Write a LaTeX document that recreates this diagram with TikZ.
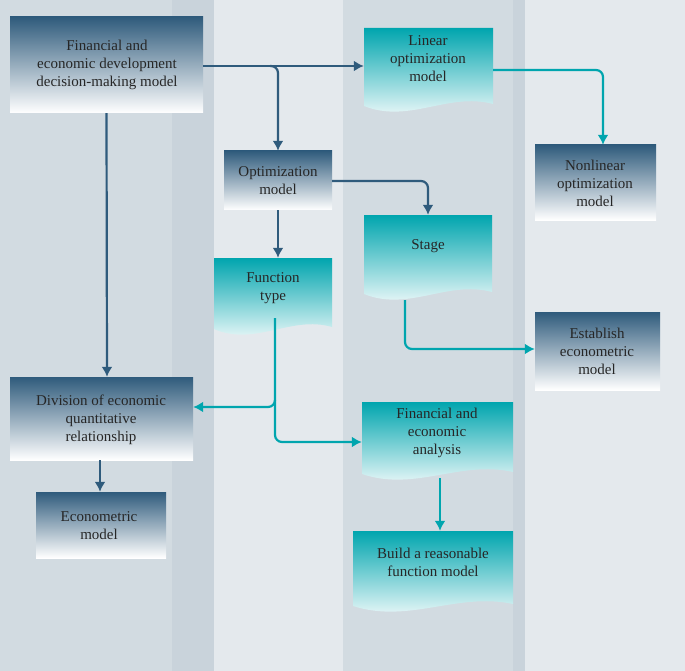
\documentclass[tikz,border=0pt]{standalone}
\usepackage{fontspec}
\setmainfont{Liberation Serif}
\begin{document}
\begin{tikzpicture}[x=1pt,y=-1pt,
  bx/.style={minimum width=#1, inner sep=1pt, align=center, font=\fontsize{15}{17}\selectfont, text=black!85},
  blue box/.style={rectangle, top color=blue1, bottom color=white, middle color=blue2},
  barr/.style={draw=blue1, line width=2.2pt, rounded corners=7pt, -{Latex[length=10pt,width=11pt]}},
  tarr/.style={draw=teal1, line width=2.2pt, rounded corners=7pt, -{Latex[length=10pt,width=11pt]}}]
\usetikzlibrary{arrows.meta}
\definecolor{blue1}{HTML}{2F5B7C}
\definecolor{blue2}{HTML}{7491AA}
\definecolor{teal1}{HTML}{00A5AE}
\definecolor{bgA}{HTML}{D2DBE1}
\definecolor{bgB}{HTML}{C9D3DB}
\definecolor{bgC}{HTML}{E4E9ED}
\useasboundingbox (0,0) rectangle (685,671);
\fill[bgA] (0,0) rectangle (172,671);
\fill[bgB] (172,0) rectangle (214,671);
\fill[bgC] (214,0) rectangle (343,671);
\fill[bgA] (343,0) rectangle (513,671);
\fill[bgB] (513,0) rectangle (525,671);
\fill[bgC] (525,0) rectangle (685,671);
% blue boxes
\newcommand{\bbox}[5]{\shade[top color=blue1, middle color=blue2, bottom color=white] (#2,#3) rectangle (#4,#5);
  \node[bx=1pt] (#1) at ({(#2+#4)/2},{(#3+#5)/2}) [minimum width={#4-#2}, minimum height={#5-#3}] {};}
\newcommand{\tbox}[5]{\shade[top color=teal1, bottom color=white] (#2,#3) -- (#4,#3) -- (#4,#5-8)
  .. controls ({#4-(#4-#2)*0.35},{#5-20}) and ({#2+(#4-#2)*0.35},{#5+12}) .. (#2,#5-6) -- cycle;
  \node[bx=1pt] (#1) at ({(#2+#4)/2},{(#3+#5)/2}) [minimum width={#4-#2}, minimum height={#5-#3}] {};}
\bbox{A}{10}{17}{203}{113}
\tbox{B}{364}{28}{493}{112}
\bbox{C}{224}{151}{332}{210}
\bbox{D}{535}{145}{656}{220}
\tbox{E}{364}{215}{492}{300}
\tbox{F}{214}{258}{332}{335}
\bbox{G}{535}{312}{660}{390}
\bbox{H}{10}{377}{193}{460}
\tbox{I}{362}{402}{513}{480}
\bbox{J}{36}{492}{166}{558}
\tbox{K}{353}{531}{513}{612}
\tikzset{lbl/.style={align=center, font=\fontsize{15}{18}\selectfont, text=black!85}}
\node[lbl] at (107,65) {Financial and\\economic development\\decision-making model};
\node[lbl] at (428,59) {Linear\\optimization\\model};
\node[lbl] at (278,181) {Optimization\\model};
\node[lbl] at (595,183) {Nonlinear\\optimization\\model};
\node[lbl] at (428,246) {Stage};
\node[lbl] at (273,288) {Function\\type};
\node[lbl] at (597,351) {Establish\\econometric\\model};
\node[lbl] at (101,420) {Division of economic\\quantitative\\relationship};
\node[lbl] at (437,433) {Financial and\\economic\\analysis};
\node[lbl] at (99,526) {Econometric\\model};
\node[lbl] at (433,562) {Build a reasonable\\function model};
% arrows
\draw[barr] (203,66) -- (B.west|-0,66);
\draw[barr] (270,66) -- (278,66) -- (C.north-|278,0);
\draw[barr] (A.south) -- (H.north-|107,0);
\draw[barr] (C.east|-0,181) -- (428,181) -- (E.north-|428,0);
\draw[barr] (C.south) -- (F.north-|278,0);
\draw[barr] (H.south-|100,0) -- (J.north-|100,0);
\draw[tarr] (B.east|-0,70) -- (603,70) -- (D.north-|603,0);
\draw[tarr] (405,300) -- (405,349) -- (G.west|-0,349);
\draw[tarr] (275,318) -- (275,407) -- (H.east|-0,407);
\draw[tarr] (275,400) -- (275,442) -- (I.west|-0,442);
\draw[tarr] (440,478) -- (K.north-|440,0);
\end{tikzpicture}
\end{document}
